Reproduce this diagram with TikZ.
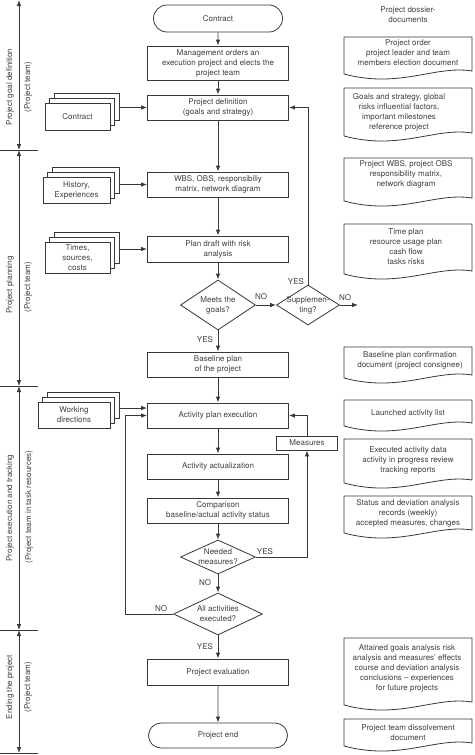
\documentclass[tikz,border=0pt]{standalone}
\usepackage{fontspec}
\setmainfont{TeX Gyre Heros}
\usetikzlibrary{arrows.meta}
\usetikzlibrary{shapes.geometric}
\usetikzlibrary{shapes.misc}
\usetikzlibrary{shadows}
\definecolor{linegray}{gray}{0.22}
\definecolor{textgray}{gray}{0.25}

% dossier document: name, top, bottom, text position, text
\newcommand{\dossier}[5]{%
\draw[doc] (344,#2) -- (472,#2) -- (472,#3-3) .. controls (435,#3-9) and (400,#3+15) .. (344,#3) -- cycle;
\node[lbl, align=center] (#1) at #4 {#5};
}

\begin{document}
\begin{tikzpicture}[x=1pt, y=-1pt, line width=0.8pt,
  box/.style={draw=linegray, fill=white, text=textgray, font=\fontsize{8}{10}\selectfont, align=center, inner sep=1pt},
  process/.style={box, rectangle, minimum width=141pt, minimum height=25pt},
  terminal/.style={box, rounded rectangle, minimum height=25pt},
  decision/.style={box, diamond, inner sep=-4pt, aspect=1.5},
  stack/.style={box, rectangle, double copy shadow={shadow xshift=4.5pt, shadow yshift=5pt}, minimum height=26pt},
  lbl/.style={text=textgray, font=\fontsize{8}{10}\selectfont, inner sep=0pt},
  phase/.style={lbl, rotate=90},
  flow/.style={draw=linegray, -{Latex[length=6pt,width=4.5pt]}},
  axis/.style={draw=linegray, {Latex[length=6pt,width=4.5pt]}-{Latex[length=6pt,width=4.5pt]}},
  doc/.style={draw=linegray, fill=white}]

\useasboundingbox (0,0) rectangle (474,755);

% phases
\coordinate (ph0) at (19,0);
\coordinate (ph1) at (19,150);
\coordinate (ph2) at (19,386);
\coordinate (ph3) at (19,630);
\coordinate (ph4) at (19,753);
\draw[axis] (ph0) -- (ph1);
\draw[axis] (ph1) -- (ph2);
\draw[axis] (ph2) -- (ph3);
\draw[axis] (ph3) -- (ph4);
\draw[linegray] (0,150) -- (38,150);
\draw[linegray] (0,386) -- (38,386);
\draw[linegray] (0,630) -- (38,630);
\draw[linegray] (0,753) -- (38,753);

\node[phase] (goal) at (10,87) {Project goal definition};
\node[phase] (goalteam) at (28,87) {(Project team)};
\node[phase] (plan) at (10,285) {Project planning};
\node[phase] (planteam) at (28,287) {(Project team)};
\node[phase] (track) at (10,508) {Project execution and tracking};
\node[phase] (trackteam) at (29,507) {(Project team in task resources)};
\node[phase] (ending) at (10,687) {Ending the project};
\node[phase] (endteam) at (28,687) {(Project team)};

% main flow
\node[terminal, minimum width=131pt, minimum height=27pt] (start) at (218,18.5) {Contract};
\node[process, minimum height=34pt] (order) at (218,63) {Management orders an\\execution project and elects the\\project team};
\node[process] (define) at (218,107.5) {Project definition\\(goals and strategy)};
\node[process] (wbs) at (218,184.5) {WBS, OBS, responsibiliy\\matrix, network diagram};
\node[process, minimum height=26pt] (draft) at (218,249) {Plan draft with risk\\analysis};
\node[decision, minimum width=75pt, minimum height=50pt] (meets) at (218,305) {Meets the\\goals?};
\node[decision, minimum width=63pt, minimum height=40pt] (suppl) at (308,305) {Supplemen-\\ting?};
\node[process] (baseline) at (218,364.5) {Baseline plan\\of the project};
\node[process] (execute) at (218,415.5) {Activity plan execution};
\node[box, minimum width=61pt, minimum height=14pt] (measures) at (307,443) {Measures};
\node[process] (actual) at (218,466.5) {Activity actualization};
\node[process] (compare) at (218,510.5) {Comparison\\baseline/actual activity status};
\node[decision, minimum width=75pt, minimum height=34pt] (needed) at (218,557) {Needed\\measures?};
\node[decision, minimum width=89pt, minimum height=42pt] (alldone) at (218,614) {All activities\\executed?};
\node[process, minimum height=26pt] (evaluate) at (218,672) {Project evaluation};
\node[terminal, minimum width=141pt] (finish) at (218,735.5) {Project end};

\draw[flow] (start) -- (order);
\draw[flow] (order) -- (define);
\draw[flow] (define) -- (wbs);
\draw[flow] (wbs) -- (draft);
\draw[flow] (draft) -- (meets);
\draw[flow] (meets) -- (baseline);
\draw[flow] (baseline) -- (execute);
\draw[flow] (execute) -- (actual);
\draw[flow] (actual) -- (compare);
\draw[flow] (compare) -- (needed);
\draw[flow] (needed) -- (alldone);
\draw[flow] (alldone) -- (evaluate);
\draw[flow] (evaluate) -- (finish);

% side loops
\coordinate (nowhere) at (358,305);
\coordinate (loopx) at (125,614);
\draw[flow] (meets.east) -- (suppl.west);
\draw[flow] (suppl.north) -- (suppl.north |- define.east) -- (define.east);
\draw[flow] (suppl.east) -- (nowhere);
\draw[flow] (needed.east) -- (needed.east -| measures.south) -- (measures.south);
\draw[flow] (measures.north) -- (measures.north |- execute.east) -- (execute.east);
\draw[flow] (alldone.west) -- (loopx) -- (loopx |- execute.west) -- (execute.west);

\node[lbl] (yesmeets) at (205,340) {YES};
\node[lbl] (nomeets) at (261,297) {NO};
\node[lbl] (yessuppl) at (296,282) {YES};
\node[lbl] (nosuppl) at (345,298) {NO};
\node[lbl] (yesneeded) at (265,552) {YES};
\node[lbl] (noneeded) at (205,583) {NO};
\node[lbl] (noall) at (161,609) {NO};
\node[lbl] (yesall) at (205,647) {YES};

% inputs
\node[stack, minimum width=65pt, minimum height=27pt] (contract) at (77.5,116.5) {Contract};
\node[stack, minimum width=67pt] (history) at (76.5,190) {History,\\Experiences};
\node[stack, minimum width=65pt, minimum height=31pt] (times) at (77.5,258) {Times,\\sources,\\costs};
\node[stack, minimum width=72pt] (working) at (74,415) {Working\\directions};

\coordinate (contractback) at ([xshift=9pt]contract.east);
\coordinate (historyback) at ([xshift=9pt]history.east);
\coordinate (timesback) at ([xshift=9pt]times.east);
\coordinate (workingback) at ([xshift=9pt]working.east);
\coordinate (execin) at ([yshift=7.5pt]execute.west);
\draw[flow] (contractback |- define.west) -- (define.west);
\draw[flow] (historyback |- wbs.west) -- (wbs.west);
\draw[flow] (timesback |- draft.west) -- (draft.west);
\draw[flow] (workingback |- execin) -- (execin);

% dossier
\node[lbl, align=center] (dossierhead) at (408,14.5) {Project dossier-\\documents};
\dossier{d1}{37}{74}{(408,53)}{Project order\\project leader and team\\members election document}
\dossier{d2}{88}{136}{(399,112)}{Goals and strategy, global\\risks influential factors,\\important milestones\\reference project}
\dossier{d3}{158}{201}{(406,174)}{Project WBS, project OBS\\responsibility matrix,\\network diagram}
\dossier{d4}{224}{274}{(406,247)}{Time plan\\resource usage plan\\cash flow\\tasks risks}
\dossier{d5}{347}{378}{(410,360)}{Baseline plan confirmation\\document (project consignee)}
\dossier{d6}{400}{426}{(408,413)}{Launched activity list}
\dossier{d7}{439}{483}{(408,460)}{Executed activity data\\activity in progress review\\tracking reports}
\dossier{d8}{496}{533}{(408,513.5)}{Status and deviation analysis\\records (weekly)\\accepted measures, changes}
\dossier{d9}{638}{705}{(407,668)}{Attained goals analysis risk\\analysis and measures' effects\\course and deviation analysis\\conclusions -- experiences\\for future projects}
\dossier{d10}{719}{746}{(408,732.5)}{Project team dissolvement\\document}

\end{tikzpicture}
\end{document}
